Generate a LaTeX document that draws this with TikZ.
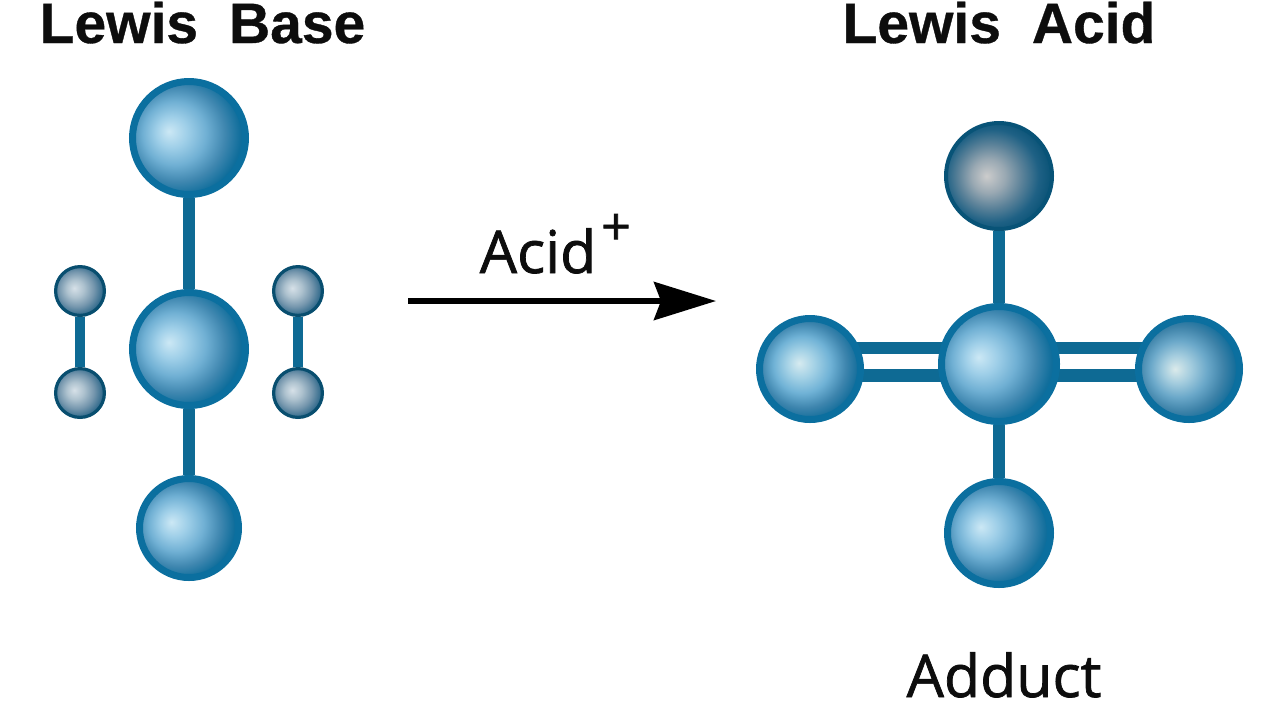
\documentclass[tikz,border=0pt]{standalone}
\usepackage{fontspec}
\setmainfont{Open Sans}[FakeBold=1.2]
\newfontfamily\titlefont{Liberation Sans}[BoldFeatures={FakeBold=0.6}]
\usetikzlibrary{arrows.meta,backgrounds}
\pgfdeclareradialshading{blueball}{\pgfpoint{-9bp}{3bp}}{
  rgb(0bp)=(0.80,0.91,0.96);
  rgb(7bp)=(0.62,0.81,0.91);
  rgb(14bp)=(0.44,0.69,0.83);
  rgb(21bp)=(0.25,0.53,0.69);
  rgb(27bp)=(0.06,0.43,0.61);
  rgb(50bp)=(0.04,0.43,0.62)}
\pgfdeclareradialshading{paleball}{\pgfpoint{-7bp}{0bp}}{
  rgb(0bp)=(0.86,0.92,0.92);
  rgb(7bp)=(0.64,0.80,0.87);
  rgb(14bp)=(0.42,0.66,0.79);
  rgb(21bp)=(0.24,0.51,0.66);
  rgb(27bp)=(0.06,0.42,0.60);
  rgb(50bp)=(0.04,0.43,0.62)}
\pgfdeclareradialshading{paleleft}{\pgfpoint{-5.5bp}{3bp}}{
  rgb(0bp)=(0.84,0.92,0.94);
  rgb(7bp)=(0.64,0.82,0.90);
  rgb(14bp)=(0.44,0.70,0.84);
  rgb(21bp)=(0.24,0.52,0.68);
  rgb(27bp)=(0.06,0.42,0.60);
  rgb(50bp)=(0.04,0.43,0.62)}
\pgfdeclareradialshading{greyball}{\pgfpoint{-6bp}{0bp}}{
  rgb(0bp)=(0.80,0.80,0.80);
  rgb(8bp)=(0.60,0.66,0.70);
  rgb(15bp)=(0.36,0.51,0.60);
  rgb(22bp)=(0.12,0.38,0.52);
  rgb(28bp)=(0.03,0.32,0.46);
  rgb(50bp)=(0.03,0.30,0.44)}
\pgfdeclareradialshading{smallball}{\pgfpoint{-6bp}{3bp}}{
  rgb(0bp)=(0.84,0.88,0.91);
  rgb(9bp)=(0.68,0.76,0.81);
  rgb(18bp)=(0.46,0.59,0.68);
  rgb(26bp)=(0.20,0.42,0.55);
  rgb(50bp)=(0.04,0.32,0.46)}
\definecolor{ring}{HTML}{0B6F9F}
\definecolor{bondc}{HTML}{0E6A94}
\tikzset{
  x=0.5pt,y=-0.5pt,
  atom/.style={circle,inner sep=0pt,draw=ring,line width=3.5pt,shading=blueball,minimum size=#1},
  small/.style={circle,inner sep=0pt,draw=ring!70!black,line width=1.6pt,shading=smallball,minimum size=24.4pt},
  bond/.style={draw=bondc,line width=6.2pt},
  thinbond/.style={draw=bondc,line width=5pt},
  title/.style={font=\titlefont\fontsize{28.5}{34}\selectfont\bfseries,text=black!95,inner sep=0pt,anchor=base},
  caption/.style={font=\fontsize{29.5}{35}\selectfont,text=black!95,inner sep=0pt,anchor=base},
}
\begin{document}
\begin{tikzpicture}
\useasboundingbox (0,0) rectangle (1280,720);
\node[title] (t1) at (202.5,43) {Lewis\hspace{15.5pt}Base};
\node[title] (t2) at (999,43) {Lewis\hspace{15.5pt}Acid};
\node[caption] (cap) at (1004,697) {Adduct};
\node[caption] (acid) at (538,273) {Acid};
\node[caption,font=\fontsize{26}{30}\selectfont] (plus) at (616,245) {+};
% left molecule
\node[atom=56.5pt] (a1) at (189,138) {};
\node[atom=56.5pt] (a2) at (189,349) {};
\node[atom=49.5pt] (a3) at (189,528) {};
\node[small] (s1) at (80,291) {};
\node[small] (s2) at (80,393) {};
\node[small] (s3) at (298,291) {};
\node[small] (s4) at (298,393) {};
% right molecule
\node[atom=53pt,line width=2pt,draw=ring!75!black,shading=greyball] (b1) at (999,176) {};
\node[atom=57.5pt] (b2) at (999,364) {};
\node[atom=50.5pt,shading=paleleft] (b3) at (810,369) {};
\node[atom=50.5pt,shading=paleball] (b4) at (1189,369) {};
\node[atom=51.5pt] (b5) at (999,533) {};
\coordinate (from) at (408,301);
\coordinate (to) at (716,301);
\draw[line width=2.8pt,-{Stealth[length=31pt,width=19pt,inset=3.5pt,fill=black]}] (from) -- (to);
\begin{scope}[on background layer]
\draw[bond] (a1) -- (a2);
\draw[bond] (a2) -- (a3);
\draw[thinbond] (s1) -- (s2);
\draw[thinbond] (s3) -- (s4);
\draw[bond] (b1) -- (b2);
\draw[bond] (b2) -- (b5);
\draw[bond] ([yshift=10.5pt]b3.center) -- ([yshift=8pt]b2.center);
\draw[bond] ([yshift=-3.25pt]b3.center) -- ([yshift=-5.75pt]b2.center);
\draw[bond] ([yshift=10.5pt]b4.center) -- ([yshift=8pt]b2.center);
\draw[bond] ([yshift=-3.25pt]b4.center) -- ([yshift=-5.75pt]b2.center);
\end{scope}
\end{tikzpicture}
\end{document}
